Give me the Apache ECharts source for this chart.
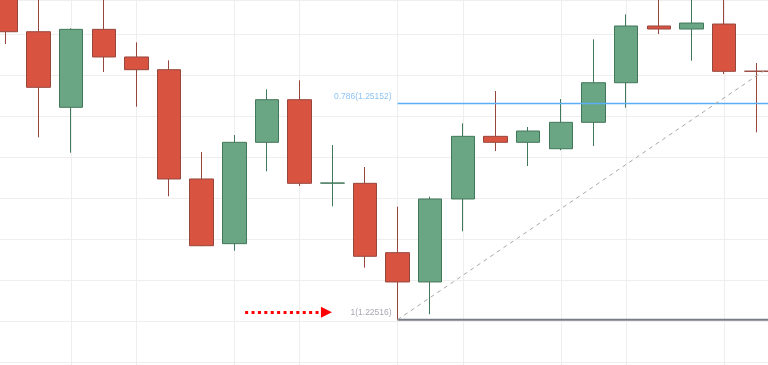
<!DOCTYPE html>
<html><head><meta charset="utf-8">
<script src="https://cdn.jsdelivr.net/npm/echarts@6/dist/echarts.min.js"></script>
<style>html,body{margin:0;padding:0;background:#fff}#c{width:768px;height:365px}</style>
</head><body><div id="c"></div>
<script>
// ---- data ----
const categories = ['C1','C2','C3','C4','C5','C6','C7','C8','C9','C10','C11','C12','C13','C14','C15','C16','C17','C18','C19','C20','C21','C22','C23','C24'];
const opens  = [1.26537,1.26028,1.25106,1.26057,1.25720,1.25565,1.24232,1.23443,1.24679,1.25199,1.24181,1.24179,1.23333,1.22976,1.23988,1.24752,1.24679,1.24601,1.24923,1.25406,1.26098,1.26061,1.26122,1.25547];
const closes = [1.26028,1.25350,1.26057,1.25720,1.25565,1.24232,1.23418,1.24679,1.25199,1.24179,1.24183,1.23289,1.22976,1.23988,1.24752,1.24679,1.24817,1.24923,1.25406,1.26098,1.26061,1.26134,1.25545,1.25545];
const lows   = [1.25878,1.24740,1.24552,1.25537,1.25113,1.24021,1.23412,1.23357,1.24326,1.24146,1.23899,1.23150,1.22516,1.22582,1.23594,1.24573,1.24390,1.24582,1.24634,1.25101,1.26000,1.25674,1.25512,1.24801];
const highs  = [1.26720,1.26598,1.26070,1.26537,1.25899,1.25679,1.24561,1.24768,1.25326,1.25435,1.24646,1.24378,1.23894,1.24016,1.24911,1.25305,1.24866,1.25207,1.25935,1.26240,1.26561,1.26600,1.26650,1.25646];
const verticalGridIdx = [2,4,7,9,12,14,17,19,22];
const xMin = -0.178, xMax = 23.345;          // visible index range
const yMin = 1.21963, yMax = 1.26415, yStep = 0.005;
const fibRatios = ['0.786','1'];
const fibPrices = [1.25152, 1.22516];
const fibStartIdx = 12, fibEndIdx = 24;
const trendLine = [[12, 1.22516],[24.4, 1.2587]];
const arrowLine = [[7.33, 1.22606],[9.82, 1.22606]];

// ---- chart ----
const fibColors = ['#5aaef5', '#787b86'];
const fibTextColors = ['#72b4f0', '#8e919a'];
const fibWidths = [1.4, 2];
const fibOffsets = [-7, -7.5];

const chart = echarts.init(document.getElementById('c'), null, {renderer:'canvas'});
const series = [];
series.push({
  type:'line', data:[], silent:true, z:0,
  markLine:{z:0, silent:true, symbol:'none', animation:false, label:{show:false},
    lineStyle:{color:'#eeeeee', width:1, type:'solid'},
    data: verticalGridIdx.map(i=>({xAxis:i}))}
});
series.push({
  type:'candlestick', z:2, barWidth:24, name:'price',
  data: categories.map((c,i)=>[i, opens[i], closes[i], lows[i], highs[i]]),
  encode:{x:0, y:[1,2,3,4]},
  itemStyle:{color:'#6aa584', color0:'#d95440', borderColor:'#42785a', borderColor0:'#97463d', borderWidth:1},
  silent:true
});
fibPrices.forEach((p,k)=>{
  series.push({
    type:'line', z:3, symbol:'none', silent:true,
    data:[[fibStartIdx,p],[fibEndIdx,p]],
    lineStyle:{color:fibColors[k], width:fibWidths[k]}
  });
  series.push({
    type:'scatter', z:3, symbolSize:0, silent:true,
    data:[[fibStartIdx,p]],
    label:{show:true, position:'left', distance:6, offset:[0,fibOffsets[k]],
      formatter: fibRatios[k] + '(' + p.toFixed(5) + ')',
      color:fibTextColors[k], fontSize:8.5, fontFamily:'Liberation Sans'}
  });
});
series.push({
  type:'line', z:3, symbol:'none', silent:true,
  data: trendLine,
  lineStyle:{color:'#a8a8a8', width:1, type:[4,4]}
});
series.push({
  type:'line', z:4, data:[], silent:true,
  markLine:{silent:true, animation:false, symbol:['none','triangle'], symbolSize:[11,11],
    label:{show:false},
    lineStyle:{color:'#ff0000', width:3, type:[3,3.4], cap:'butt'},
    itemStyle:{color:'#ff0000'},
    data:[[{coord:arrowLine[0]},{coord:arrowLine[1]}]]}
});

chart.setOption({
  animation:false,
  backgroundColor:'#ffffff',
  grid:{left:0, right:0, top:0, bottom:0, containLabel:false},
  xAxis:{type:'value', min:xMin, max:xMax, axisLine:{show:false}, axisTick:{show:false}, axisLabel:{show:false}, splitLine:{show:false}},
  yAxis:{type:'value', min:yMin, max:yMax, splitNumber:9, minInterval:yStep, maxInterval:yStep,
    axisLine:{show:false}, axisTick:{show:false}, axisLabel:{show:false},
    splitLine:{show:true, lineStyle:{color:'#eeeeee', width:1}}},
  series
});
</script></body></html>
